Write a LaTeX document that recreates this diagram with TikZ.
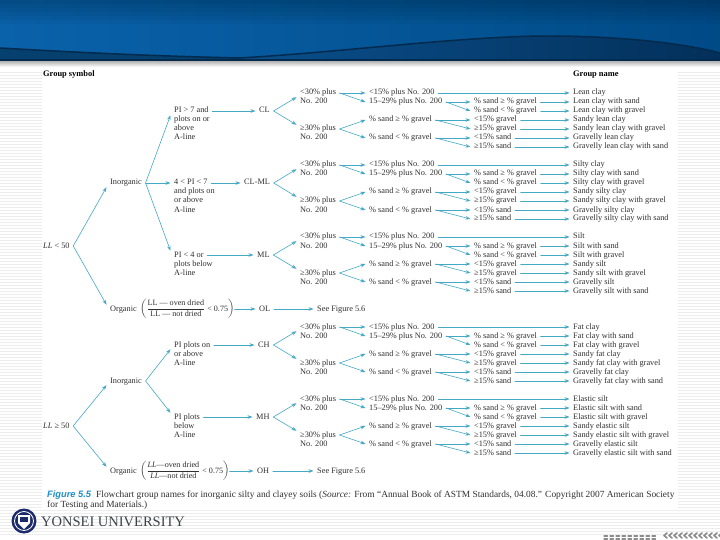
\documentclass[tikz,border=0pt]{standalone}
\usepackage{amsmath}
\usepackage{fontspec}
\setmainfont{Liberation Serif}
\setsansfont{Liberation Sans}
\usetikzlibrary{arrows.meta}
\definecolor{arrowcol}{HTML}{45A9C6}
\definecolor{inkcol}{HTML}{303030}
\definecolor{stripecol}{HTML}{EDEDED}
\definecolor{navycol}{HTML}{1B2A6B}
\definecolor{bannerleft}{HTML}{0A62AA}
\definecolor{bannerright}{HTML}{004A86}
\definecolor{wedgeA}{HTML}{0A4F8C}
\definecolor{wedgeB}{HTML}{03305A}
\definecolor{wedgeleft}{HTML}{06406F}
\definecolor{curvecol}{HTML}{042A4E}
\definecolor{figcol}{HTML}{1E8FC8}
\definecolor{yonseicol}{HTML}{3E4248}
\tikzset{
  every picture/.style={line join=round, line cap=round},
  txt/.style={anchor=west, inner xsep=3.5pt, inner ysep=0.5pt, xshift=-3.5pt,
    text height=5.5pt, text depth=1.5pt, text=inkcol, font=\fontsize{8.3}{9}\selectfont},
  head/.style={txt, text=black, font=\fontsize{8.4}{9}\selectfont\bfseries},
  frac/.style={anchor=west, inner sep=0pt, text=inkcol, font=\fontsize{8.1}{9}\selectfont},
  captext/.style={anchor=west, inner sep=0pt, text=inkcol, font=\fontsize{9.4}{10}\selectfont},
  arr/.style={->, >={Stealth[length=5pt,width=3.6pt]}, draw=arrowcol, line width=0.6pt},
  stripe/.style={draw=stripecol, line width=0.7pt},
}
% one block of seven group names: id, top row, parent node, names
\newcommand{\soilblock}[4]{
  \node[txt] (#1a) at (300,#2) {<30\% plus};
  \node[txt] (#1an) at (300,{#2+9}) {No. 200};
  \node[txt] (#1b) at (300,{#2+36}) {≥30\% plus};
  \node[txt] (#1bn) at (300,{#2+45}) {No. 200};
  \node[txt] (#1c) at (369,#2) {<15\% plus No. 200};
  \node[txt] (#1d) at (369,{#2+9}) {15–29\% plus No. 200};
  \node[txt] (#1e) at (369,{#2+27}) {\% sand ≥ \% gravel};
  \node[txt] (#1f) at (369,{#2+45}) {\% sand < \% gravel};
  \node[txt] (#1g) at (474,{#2+9}) {\% sand ≥ \% gravel};
  \node[txt] (#1h) at (474,{#2+18}) {\% sand < \% gravel};
  \node[txt] (#1i) at (474,{#2+27}) {<15\% gravel};
  \node[txt] (#1j) at (474,{#2+36}) {≥15\% gravel};
  \node[txt] (#1k) at (474,{#2+45}) {<15\% sand};
  \node[txt] (#1l) at (474,{#2+54}) {≥15\% sand};
  \foreach \nm [count=\i] in {#4}
    \node[txt] (#1n\i) at (573,{#2+9*(\i-1)}) {\nm};
  \draw[arr] (#3.east)--(#1a.south west);
  \draw[arr] (#3.east)--(#1b.north west);
  \draw[arr] (#1a.east)--(#1c.west);
  \draw[arr] (#1a.east)--(#1d.west);
  \draw[arr] (#1b.east)--(#1e.west);
  \draw[arr] (#1b.east)--(#1f.west);
  \draw[arr] (#1d.east)--(#1g.west);
  \draw[arr] (#1d.east)--(#1h.west);
  \draw[arr] (#1e.east)--(#1i.west);
  \draw[arr] (#1e.east)--(#1j.west);
  \draw[arr] (#1f.east)--(#1k.west);
  \draw[arr] (#1f.east)--(#1l.west);
  \foreach \from/\to in {c/1,g/2,h/3,i/4,j/5,k/6,l/7}
    \draw[arr] (#1\from.east)--(#1n\to.west);
}
\begin{document}
\begin{tikzpicture}[x=1pt,y=-1pt]
\useasboundingbox (0,0) rectangle (720,540);
% slide background
\fill[white] (0,0) rectangle (720,540);
\foreach \yy in {72,75,...,507}{
  \draw[stripe] (0,\yy)--(42,\yy);
  \draw[stripe] (678,\yy)--(720,\yy);
}
\foreach \yy in {510,513,...,534}
  \draw[stripe] (0,\yy)--(720,\yy);
\fill[white] (42,62) rectangle (678,510);
% banner
\shade[top color=black!35, bottom color=white] (0,60) rectangle (720,67);
\shade[left color=bannerleft, right color=bannerright] (0,0) rectangle (720,61);
\foreach \yy in {0,4,...,20}
  \fill[black, opacity=0.035] (0,0) rectangle (720,\yy+4);
\shade[left color=wedgeA, right color=wedgeB] (240,61) -- (240,58)
  .. controls (340,52) and (430,40) .. (520,36.5)
  .. controls (600,34) and (680,42) .. (720,53) -- (720,61) -- cycle;
\fill[wedgeleft] (0,48) .. controls (70,52) and (150,56) .. (240,58)
  -- (240,61) -- (0,61) -- cycle;
\draw[curvecol, line width=1.5pt] (0,48) .. controls (70,52) and (150,56) .. (240,58)
  .. controls (340,52) and (430,40) .. (520,36.5)
  .. controls (600,34) and (680,42) .. (720,53);
\fill[curvecol] (0,59) rectangle (720,61);
% headers
\node[head] (symbolhead) at (43,75) {Group symbol};
\node[head] (namehead) at (573,75) {Group name};
% LL < 50
\node[txt] (llone) at (43,246) {\textit{LL} < 50};
\node[txt] (inorgone) at (110,183) {Inorganic};
\node[txt] (orgone) at (110,309) {Organic};
\node[frac] (fracone) at (140,309) {$\left(\dfrac{\mbox{LL — oven dried}}{\mbox{LL — not dried}}\mbox{ < 0.75}\right)$};
\node[txt] (piA) at (174,111) {PI > 7 and};
\node[txt] (piAb) at (174,120) {plots on or};
\node[txt] (piAc) at (174,129) {above};
\node[txt] (piAd) at (174,138) {A-line};
\node[txt] (piB) at (174,183) {4 < PI < 7};
\node[txt] (piBb) at (174,192) {and plots on};
\node[txt] (piBc) at (174,201) {or above};
\node[txt] (piBd) at (174,210) {A-line};
\node[txt] (piC) at (174,255) {PI < 4 or};
\node[txt] (piCb) at (174,264) {plots below};
\node[txt] (piCc) at (174,273) {A-line};
\node[txt] (cl) at (259,111) {CL};
\node[txt] (clml) at (244,183) {CL-ML};
\node[txt] (ml) at (257,255) {ML};
\node[txt] (ol) at (259,309) {OL};
\node[txt] (seeone) at (317,309) {See Figure 5.6};
% LL >= 50
\node[txt] (lltwo) at (43,426) {\textit{LL} ≥ 50};
\node[txt] (inorgtwo) at (110,381) {Inorganic};
\node[txt] (orgtwo) at (110,471) {Organic};
\node[frac] (fractwo) at (140,471) {$\left(\dfrac{\mbox{\textit{LL}—oven dried}}{\mbox{\textit{LL}—not dried}}\mbox{ < 0.75}\right)$};
\node[txt] (piD) at (174,345) {PI plots on};
\node[txt] (piDb) at (174,354) {or above};
\node[txt] (piDc) at (174,363) {A-line};
\node[txt] (piE) at (174,417) {PI plots};
\node[txt] (piEb) at (174,426) {below};
\node[txt] (piEc) at (174,435) {A-line};
\node[txt] (ch) at (258,345) {CH};
\node[txt] (mh) at (256,417) {MH};
\node[txt] (oh) at (257,471) {OH};
\node[txt] (seetwo) at (317,471) {See Figure 5.6};
% connectors
\draw[arr] (llone.east)--(inorgone.south west);
\draw[arr] (llone.east)--(orgone.north west);
\draw[arr] (inorgone.east)--(piA.south west);
\draw[arr] (inorgone.east)--(piB.west);
\draw[arr] (inorgone.east)--(piC.north west);
\draw[arr] (piA.east)--(cl.west);
\draw[arr] (piB.east)--(clml.west);
\draw[arr] (piC.east)--(ml.west);
\draw[arr] (fracone.east)--(ol.west);
\draw[arr] (ol.east)--(seeone.west);
\draw[arr] (lltwo.east)--(inorgtwo.south west);
\draw[arr] (lltwo.east)--(orgtwo.north west);
\draw[arr] (inorgtwo.east)--(piD.south west);
\draw[arr] (inorgtwo.east)--(piE.north west);
\draw[arr] (piD.east)--(ch.west);
\draw[arr] (piE.east)--(mh.west);
\draw[arr] (fractwo.east)--(oh.west);
\draw[arr] (oh.east)--(seetwo.west);
% the five blocks on the right
\soilblock{lean}{93}{cl}{Lean clay,Lean clay with sand,Lean clay with gravel,Sandy lean clay,Sandy lean clay with gravel,Gravelly lean clay,Gravelly lean clay with sand}
\soilblock{silty}{165}{clml}{Silty clay,Silty clay with sand,Silty clay with gravel,Sandy silty clay,Sandy silty clay with gravel,Gravelly silty clay,Gravelly silty clay with sand}
\soilblock{silt}{237}{ml}{Silt,Silt with sand,Silt with gravel,Sandy silt,Sandy silt with gravel,Gravelly silt,Gravelly silt with sand}
\soilblock{fat}{327}{ch}{Fat clay,Fat clay with sand,Fat clay with gravel,Sandy fat clay,Sandy fat clay with gravel,Gravelly fat clay,Gravelly fat clay with sand}
\soilblock{elastic}{399}{mh}{Elastic silt,Elastic silt with sand,Elastic silt with gravel,Sandy elastic silt,Sandy elastic silt with gravel,Gravelly elastic silt,Gravelly elastic silt with sand}
% caption
\node[captext, text=figcol, font=\fontsize{9.3}{10}\selectfont\sffamily\bfseries\itshape] (figlabel) at (47,495) {Figure 5.5};
\node[captext] (capone) at (96,495) {Flowchart group names for inorganic silty and clayey soils (\textit{Source:} From “Annual Book of ASTM Standards, 04.08.” Copyright 2007 American Society};
\node[captext] (captwo) at (47,505) {for Testing and Materials.)};
% logo and name
\fill[navycol] (24,521) circle (12.5);
\draw[white, line width=0.8pt] (24,521) circle (9.5);
\fill[white] (18,515) -- (30,515) -- (30,523) -- (24,529) -- (18,523) -- cycle;
\fill[navycol] (20,517) rectangle (28,522);
\node[anchor=west, inner sep=0pt, text=yonseicol, font=\fontsize{14.5}{16}\selectfont] (yonsei) at (41,522) {YONSEI UNIVERSITY};
% corner ornament
\foreach \xx in {604,610,...,656}{
  \draw[black!45, line width=1.1pt] (\xx,536)--(\xx+3.5,536);
  \draw[black!45, line width=1.1pt] (\xx,539)--(\xx+3.5,539);
}
\foreach \xx in {664,669,...,719}
  \draw[black!45, line width=1.6pt] (\xx+3,533)--(\xx,535.5)--(\xx+3,538);
\end{tikzpicture}
\end{document}
